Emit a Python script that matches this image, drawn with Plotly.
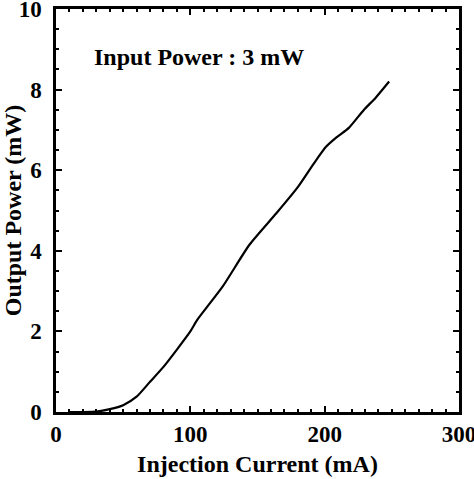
import plotly.graph_objects as go

# injection current (mA) vs output power (mW)
current = [10, 20, 30, 40, 50, 60, 70, 80, 90, 100, 105, 124, 144, 164,
           180, 192, 201, 209, 218, 229, 238, 248]
power = [0, 0, 0.01, 0.07, 0.17, 0.38, 0.75, 1.12, 1.55, 2.0, 2.28, 3.11,
         4.15, 4.93, 5.58, 6.17, 6.58, 6.82, 7.05, 7.49, 7.8, 8.2]

title_font = dict(family="Liberation Serif", size=24, color="black")
tick_font = dict(family="Liberation Serif", size=23, color="black")

fig = go.Figure()
fig.add_trace(go.Scatter(x=current, y=power, mode="lines",
                         line=dict(color="black", width=2.2, shape="spline", smoothing=0.6),
                         showlegend=False))

axis_style = dict(
    showline=True, linecolor="black", linewidth=2.5, mirror="ticks",
    ticks="inside", ticklen=6, tickwidth=1.5, tickcolor="black",
    showgrid=False, zeroline=False, automargin=False,
    ticklabeloverflow="allow", tickfont=tick_font,
    tickprefix="<b>", ticksuffix="</b>",
)

fig.update_xaxes(range=[0, 300], dtick=100,
                 minor=dict(dtick=10, ticks="inside", ticklen=3, tickcolor="black"),
                 title=dict(text="<b>Injection Current (mA)</b>", font=title_font, standoff=9),
                 **axis_style)
fig.update_yaxes(range=[0, 10], dtick=2, ticklabelstandoff=7,
                 minor=dict(dtick=0.5, ticks="inside", ticklen=3, tickcolor="black"),
                 title=dict(text="<b>Output Power (mW)</b>", font=title_font, standoff=6),
                 **axis_style)

fig.add_annotation(x=27, y=8.8, xref="x", yref="y", xanchor="left", yanchor="middle",
                   text="<b>Input Power : 3 mW</b>", showarrow=False, font=title_font)

fig.update_layout(width=474, height=479, margin=dict(l=56, r=15, t=9, b=67),
                  plot_bgcolor="white", paper_bgcolor="white")

# drop the browser's default page margin so the figure sits at the corner
fig.write_html("out.html", config={"displayModeBar": False},
               post_script="document.body.style.margin='0px';")
